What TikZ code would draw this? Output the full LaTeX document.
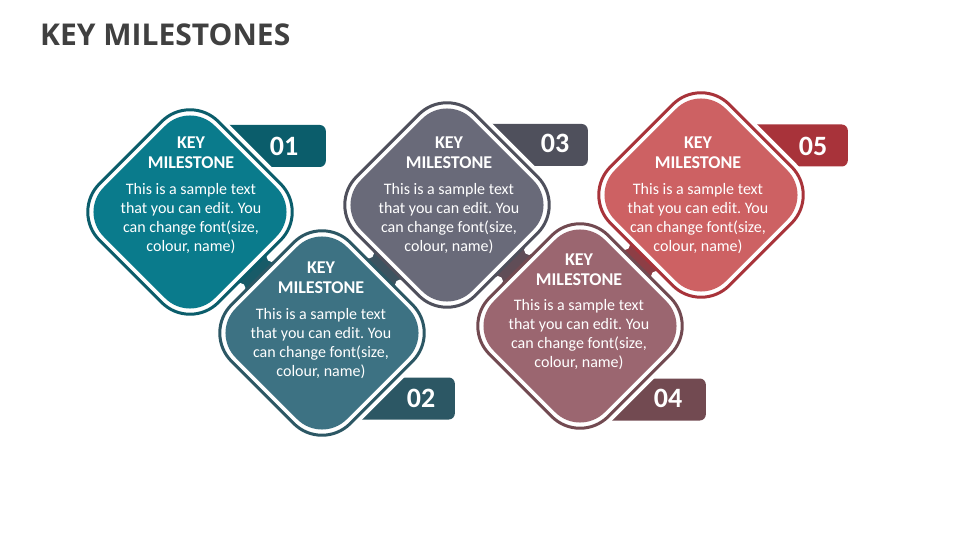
\documentclass[tikz,border=0pt]{standalone}
\usepackage{fontspec}
\setmainfont{Carlito}
\newfontfamily\headfont{Open Sans}
\usetikzlibrary{positioning,calc}
\frenchspacing

\definecolor{titlegray}{HTML}{404040}
\definecolor{tealIn}{HTML}{0A7B8C}
\definecolor{tealDk}{HTML}{0B5D6B}
\definecolor{slateIn}{HTML}{3D7283}
\definecolor{slateDk}{HTML}{2C5764}
\definecolor{greyIn}{HTML}{696A79}
\definecolor{greyDk}{HTML}{4F505C}
\definecolor{mauveIn}{HTML}{9B6670}
\definecolor{mauveDk}{HTML}{724A51}
\definecolor{redIn}{HTML}{CD6163}
\definecolor{redDk}{HTML}{A8333A}

\newcommand{\mstext}{This is a sample text\\that you can edit. You\\can change font(size,\\colour, name)}

\tikzset{
  halo/.style={rectangle, rotate=45, rounded corners=45pt, minimum size=179pt, inner sep=0pt, fill=white},
  rim/.style={rectangle, rotate=45, rounded corners=40pt, minimum size=168pt, inner sep=0pt, fill=white, draw=#1, line width=3pt},
  core/.style={rectangle, rotate=45, rounded corners=35pt, minimum size=157pt, inner sep=0pt, fill=#1},
  tabbox/.style={rectangle, rounded corners=6pt, minimum height=42pt, anchor=east, fill=#1},
  numtxt/.style={text=white, inner sep=0pt, font=\bfseries\fontsize{28}{30}\selectfont},
  head/.style={text=white, align=center, inner sep=0pt, font=\bfseries\fontsize{18}{20}\selectfont},
  body/.style={text=white, align=center, inner sep=0pt, font=\fontsize{16}{19}\selectfont},
  pill/.style={white, line width=10pt, line cap=round}
}

\begin{document}
\begin{tikzpicture}[x=1pt,y=-1pt]
  \useasboundingbox (0,0) rectangle (960,540);
  \node[anchor=west, inner sep=0pt, text=titlegray, font=\headfont\bfseries\fontsize{30}{34}\selectfont] (title) at (40,35) {KEY MILESTONES};

  % centres of the five milestones
  \coordinate (c1) at (190,212);
  \coordinate (c2) at (322,333);
  \coordinate (c3) at (447,205);
  \coordinate (c4) at (580,326);
  \coordinate (c5) at (701,195);

  % number tabs behind
  \node[tabbox=tealDk, minimum width=136pt] (t1) at (326,146) {};
  \node[tabbox=slateDk, minimum width=133pt] (t2) at (455,398.5) {};
  \node[tabbox=greyDk, minimum width=141pt] (t3) at (588,145) {};
  \node[tabbox=mauveDk, minimum width=126pt] (t4) at (706,399.5) {};
  \node[tabbox=redDk, minimum width=150pt] (t5) at (848,145.5) {};

  \node[halo] (h1) at (c1) {};
  \node[halo] (h2) at (c2) {};
  \node[halo] (h3) at (c3) {};
  \node[halo] (h4) at (c4) {};
  \node[halo] (h5) at (c5) {};

  % links between neighbours
  \foreach \p/\q/\ang/\col in {c1/c2/-45/tealDk!60!slateDk, c2/c3/45/slateDk!50!greyDk,
                               c3/c4/-45/greyDk!50!mauveDk, c4/c5/45/mauveDk!50!redDk} {
    \coordinate (m) at ($(\p)!0.5!(\q)$);
    \fill[fill=\col] ($(m)+(\ang:22)+(\ang+90:12)$) -- ($(m)+(\ang:22)+(\ang-90:12)$)
      -- ($(m)+(\ang+180:22)+(\ang-90:12)$) -- ($(m)+(\ang+180:22)+(\ang+90:12)$) -- cycle;
    \draw[pill] ($(m)+(\ang:22)$) -- ($(m)+(\ang:70)$);
    \draw[pill] ($(m)+(\ang+180:22)$) -- ($(m)+(\ang+180:70)$);
  }

  \node[rim=tealDk] (r1) at (c1) {};
  \node[core=tealIn] (d1) at (c1) {};
  \node[rim=slateDk] (r2) at (c2) {};
  \node[core=slateIn] (d2) at (c2) {};
  \node[rim=greyDk] (r3) at (c3) {};
  \node[core=greyIn] (d3) at (c3) {};
  \node[rim=mauveDk] (r4) at (c4) {};
  \node[core=mauveIn] (d4) at (c4) {};
  \node[rim=redDk] (r5) at (c5) {};
  \node[core=redIn] (d5) at (c5) {};

  \node[numtxt] (n1) at (284,146) {01};
  \node[numtxt] (n2) at (421,398) {02};
  \node[numtxt] (n3) at (555,143) {03};
  \node[numtxt] (n4) at (668,398) {04};
  \node[numtxt] (n5) at (813,146) {05};

  \node[head] (k1) at (191,153) {KEY\\MILESTONE};
  \node[body, below=14pt of k1] (s1) {\mstext};
  \node[head] (k2) at (321,278) {KEY\\MILESTONE};
  \node[body, below=14pt of k2] (s2) {\mstext};
  \node[head] (k3) at (449,153) {KEY\\MILESTONE};
  \node[body, below=14pt of k3] (s3) {\mstext};
  \node[head] (k4) at (579,269.5) {KEY\\MILESTONE};
  \node[body, below=14pt of k4] (s4) {\mstext};
  \node[head] (k5) at (698,153) {KEY\\MILESTONE};
  \node[body, below=14pt of k5] (s5) {\mstext};
\end{tikzpicture}
\end{document}
